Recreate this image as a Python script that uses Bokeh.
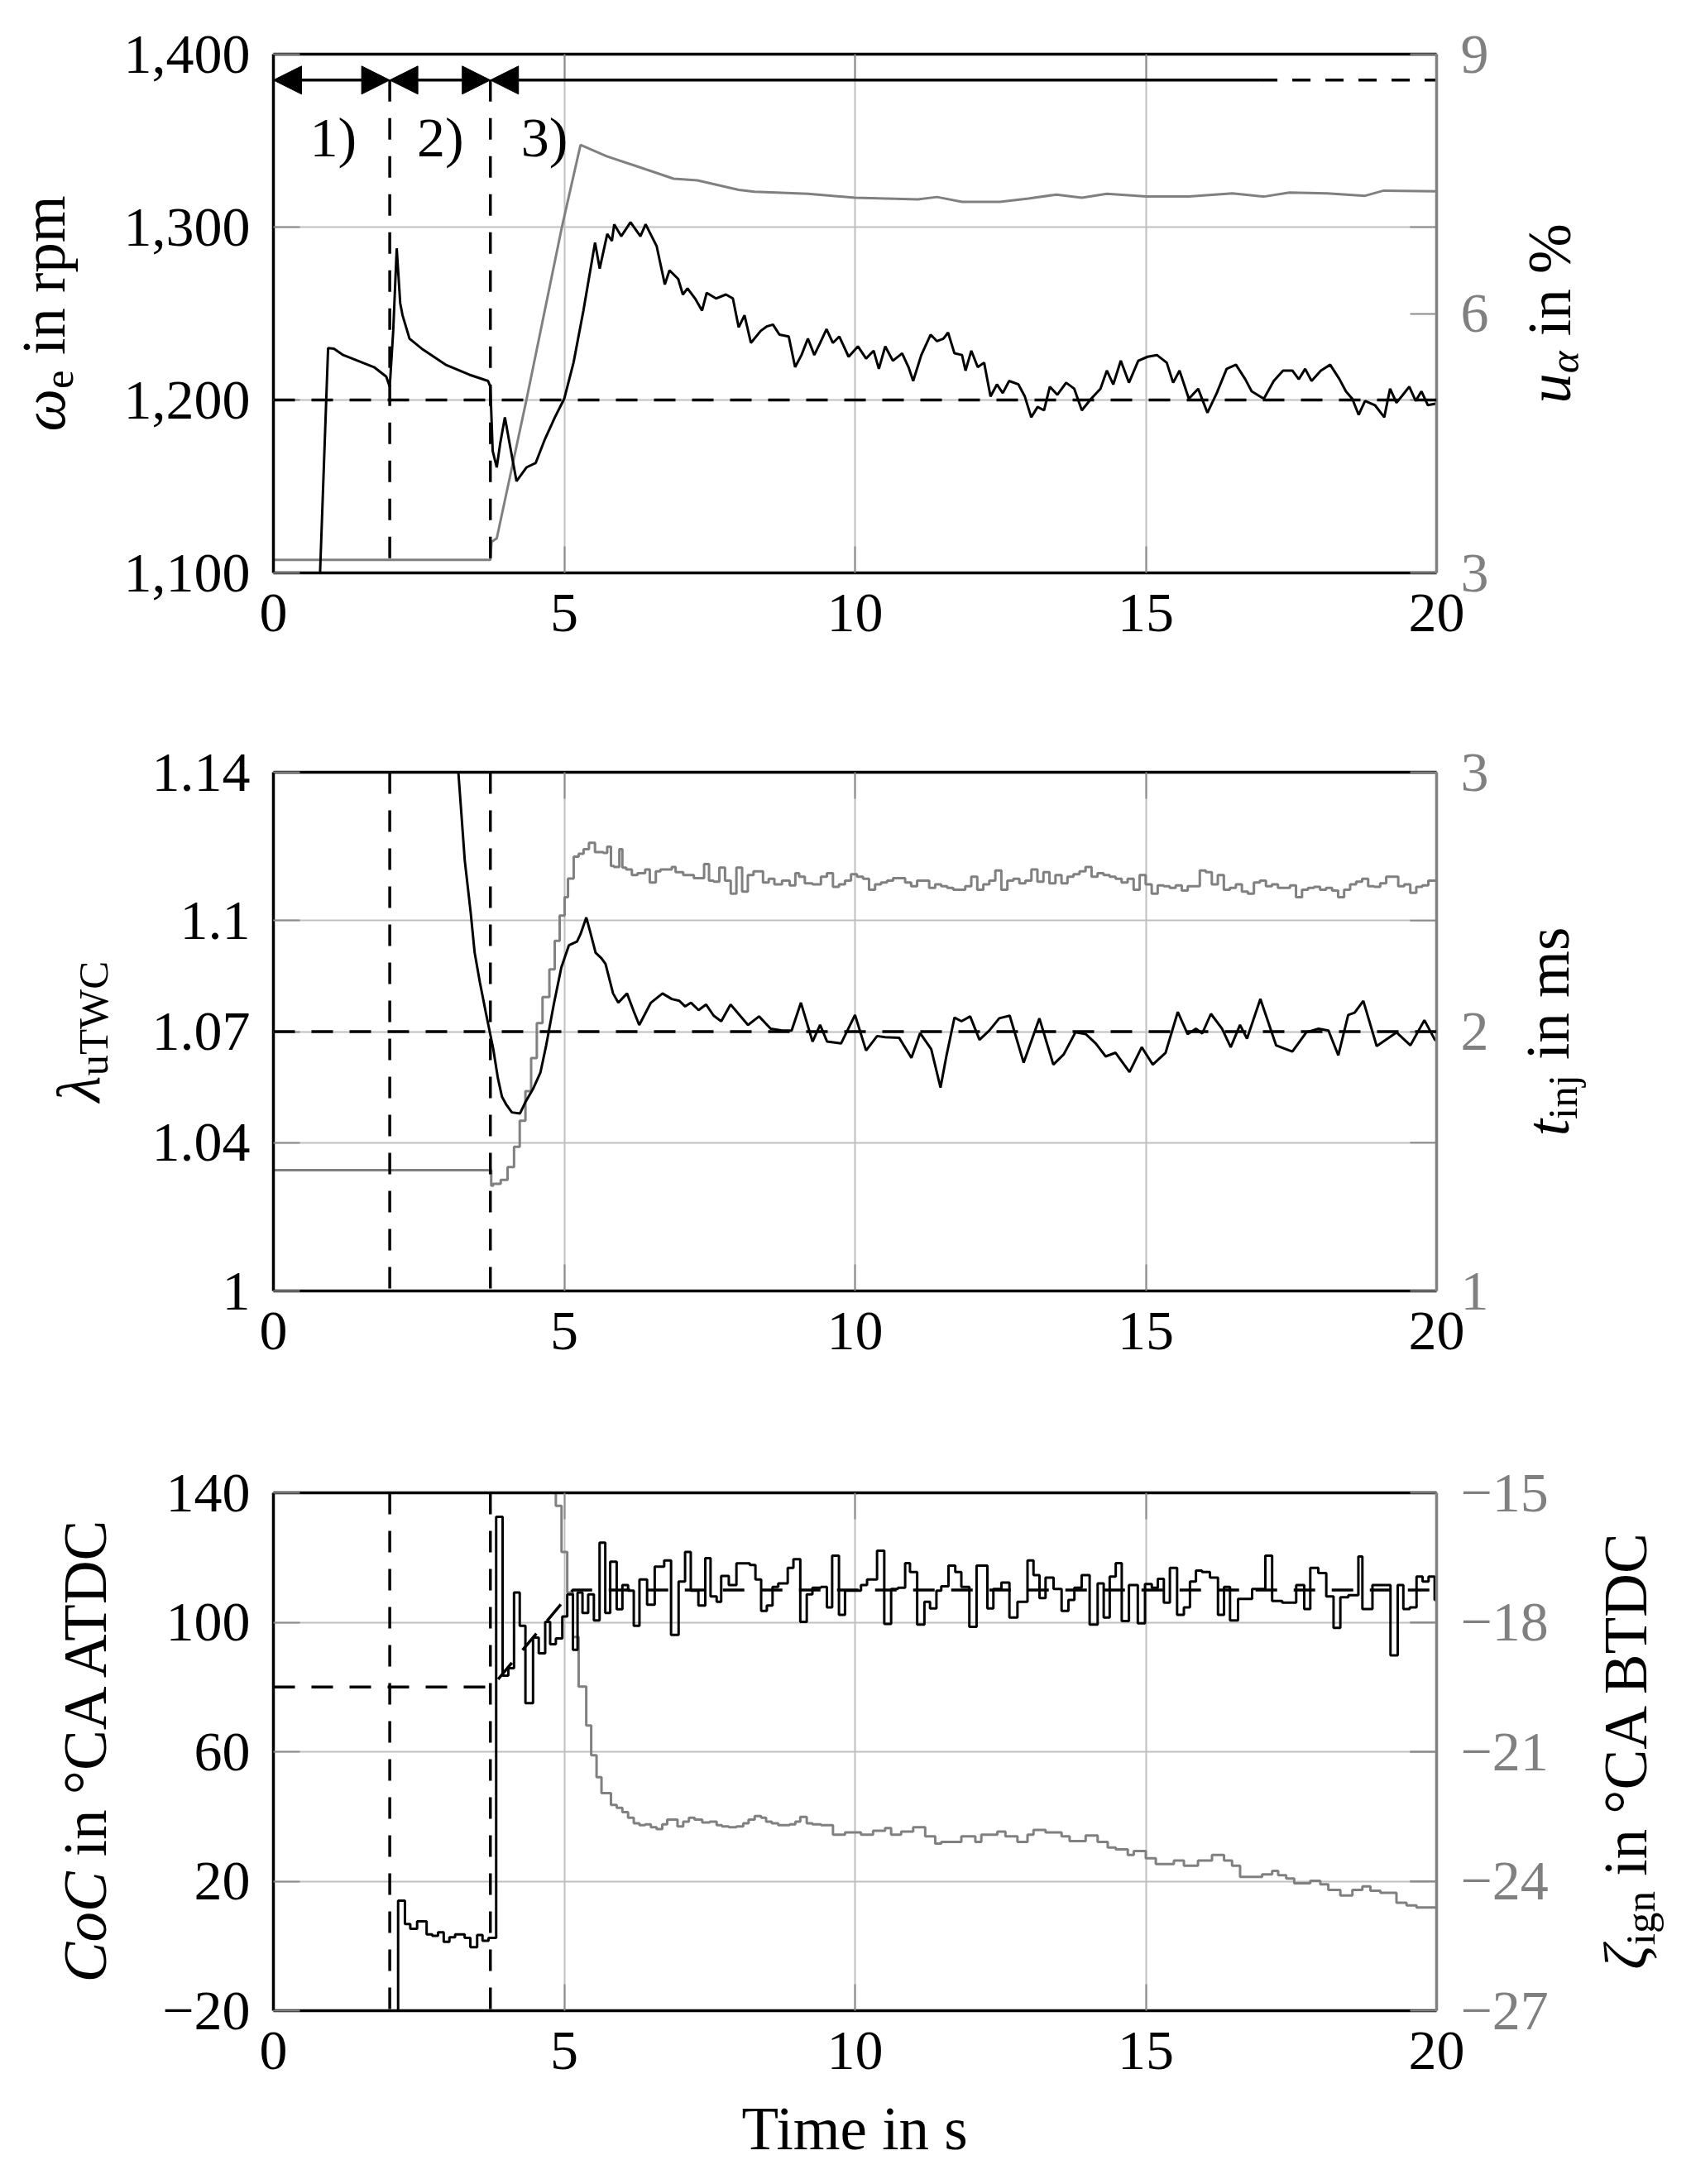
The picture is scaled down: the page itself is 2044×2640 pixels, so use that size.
import numpy as np
from bokeh.plotting import figure
from bokeh.models import (Range1d, LinearAxis, FixedTicker, CustomJSTickFormatter,
                          Span, Arrow, NormalHead, Div)
from bokeh.layouts import column, row
from bokeh.embed import file_html
from bokeh.resources import INLINE
from bokeh.core.properties import value

# ---------------- data ----------------
time_ticks = [0, 5, 10, 15, 20]

omega_ticks = [1100, 1200, 1300, 1400]
omega_tick_labels = ["1,100", "1,200", "1,300", "1,400"]
u_ticks = [3, 6, 9]
u_tick_labels = ["3", "6", "9"]
lam_ticks = [1.0, 1.04, 1.07, 1.1, 1.14]
lam_tick_labels = ["1", "1.04", "1.07", "1.1", "1.14"]
tinj_ticks = [1, 2, 3]
tinj_tick_labels = ["1", "2", "3"]
coc_ticks = [-20, 20, 60, 100, 140]
coc_tick_labels = ["\u221220", "20", "60", "100", "140"]
ign_ticks = [-27, -24, -21, -18, -15]
ign_tick_labels = ["\u221227", "\u221224", "\u221221", "\u221218", "\u221215"]

phase_bounds = [2.0, 3.73]
phase_labels = ["1)", "2)", "3)"]
omega_ref = 1200
lambda_ref = 1.07
coc_ref = [(0, 80), (3.75, 80), (5.15, 110), (20, 110)]

# engine speed omega_e (rpm)
omega = [(0.77, 1070), (0.94, 1230), (1.04, 1229.7), (1.20, 1226), (1.73, 1219), (1.94, 1213.5),
         (2.00, 1207.7), (2.06, 1240), (2.12, 1287.7), (2.18, 1256), (2.22, 1249), (2.34, 1235.5),
         (2.55, 1229.7), (2.96, 1220.4), (3.37, 1214.6), (3.69, 1211), (3.73, 1207.7), (3.77, 1170.5),
         (3.84, 1161), (3.90, 1175), (3.98, 1190), (4.06, 1175), (4.18, 1153), (4.35, 1161),
         (4.51, 1163.6), (4.67, 1177.5), (4.84, 1190), (5.00, 1200.7), (5.16, 1221.6), (5.33, 1251.7),
         (5.53, 1291), (5.61, 1276), (5.74, 1296), (5.82, 1292), (5.86, 1301.6), (5.98, 1294.7),
         (6.14, 1302.8), (6.31, 1294.7), (6.40, 1301.6), (6.59, 1288.9), (6.73, 1266.8), (6.81, 1275),
         (6.96, 1270), (7.04, 1261), (7.12, 1264.5), (7.25, 1258.7), (7.37, 1251.7), (7.45, 1262),
         (7.61, 1258.7), (7.78, 1261), (7.90, 1258.7), (8.00, 1242), (8.10, 1249), (8.21, 1233),
         (8.38, 1240), (8.48, 1242.5), (8.59, 1243.6), (8.70, 1237.8), (8.86, 1236.7), (8.97, 1219),
         (9.08, 1226), (9.19, 1235.5), (9.30, 1226), (9.40, 1233), (9.51, 1241), (9.62, 1233),
         (9.73, 1236.7), (9.89, 1225), (10.05, 1231), (10.19, 1224), (10.32, 1228.5), (10.41, 1218),
         (10.52, 1231), (10.65, 1222.7), (10.81, 1227), (10.92, 1219), (11.00, 1211), (11.14, 1226),
         (11.30, 1237.8), (11.41, 1234), (11.52, 1235.5), (11.60, 1239), (11.71, 1227), (11.84, 1226),
         (11.90, 1217), (12.00, 1228.5), (12.11, 1219), (12.22, 1221.6), (12.33, 1202), (12.44, 1209),
         (12.54, 1204), (12.65, 1211), (12.81, 1209), (12.92, 1202), (13.03, 1190), (13.14, 1196),
         (13.25, 1194), (13.35, 1207.7), (13.48, 1203), (13.63, 1210), (13.77, 1206.5), (13.90, 1194),
         (14.06, 1200.7), (14.22, 1206.5), (14.33, 1217), (14.44, 1209), (14.57, 1222.7), (14.71, 1210),
         (14.87, 1222.7), (15.03, 1225), (15.19, 1226), (15.36, 1221.6), (15.47, 1210), (15.58, 1217),
         (15.74, 1200.7), (15.90, 1206.5), (16.06, 1192.6), (16.22, 1204), (16.39, 1218), (16.55, 1220.4),
         (16.71, 1212), (16.82, 1205), (17.03, 1200.7), (17.20, 1211), (17.36, 1217), (17.52, 1217),
         (17.63, 1212), (17.74, 1218), (17.85, 1211), (18.01, 1217), (18.17, 1220.4), (18.33, 1212),
         (18.44, 1205), (18.55, 1200.7), (18.66, 1191.4), (18.77, 1199.5), (18.94, 1197), (19.10, 1190),
         (19.20, 1206.5), (19.31, 1198.4), (19.42, 1203), (19.53, 1207.7), (19.64, 1199.5), (19.74, 1205),
         (19.85, 1197), (20.00, 1198)]

# throttle u_alpha (%)
u_alpha = [(0, 3.15), (3.73, 3.15), (3.75, 3.36), (3.84, 3.40), (4.35, 5.0), (4.96, 7.0), (5.28, 7.95),
           (5.73, 7.82), (6.88, 7.56), (7.29, 7.54), (8.00, 7.43), (8.27, 7.41), (9.19, 7.385),
           (10.0, 7.339), (10.54, 7.33), (11.08, 7.32), (11.41, 7.348), (11.84, 7.292), (12.49, 7.292),
           (12.98, 7.33), (13.46, 7.376), (13.9, 7.339), (14.33, 7.385), (15.01, 7.353), (15.74, 7.353),
           (16.49, 7.39), (17.03, 7.353), (17.47, 7.40), (18.12, 7.39), (18.77, 7.362), (19.09, 7.422),
           (20.0, 7.413)]

# lambda upstream TWC
lam = [(3.10, 1.16), (3.18, 1.14), (3.29, 1.1162), (3.39, 1.1024), (3.46, 1.0913), (3.55, 1.0833),
       (3.65, 1.0753), (3.78, 1.0653), (3.86, 1.0574), (3.93, 1.0524), (4.00, 1.0504), (4.10, 1.0482),
       (4.24, 1.0479), (4.33, 1.0509), (4.46, 1.0544), (4.59, 1.0589), (4.69, 1.0663), (4.82, 1.0773),
       (4.95, 1.0873), (5.08, 1.0933), (5.22, 1.0943), (5.28, 1.0963), (5.38, 1.1008), (5.44, 1.0973),
       (5.54, 1.0913), (5.64, 1.0898), (5.71, 1.0883), (5.84, 1.0803), (5.93, 1.0778), (6.08, 1.0803),
       (6.20, 1.0753), (6.29, 1.0718), (6.49, 1.0778), (6.69, 1.0803), (6.85, 1.0788), (6.98, 1.0783),
       (7.08, 1.0768), (7.18, 1.0778), (7.31, 1.0758), (7.44, 1.0773), (7.57, 1.0743), (7.70, 1.0728),
       (7.86, 1.0773), (8.16, 1.0718), (8.35, 1.0741), (8.55, 1.0708), (8.75, 1.0703), (8.91, 1.0703),
       (9.07, 1.0778), (9.27, 1.0673), (9.40, 1.0718), (9.52, 1.0673), (9.76, 1.0668), (10.00, 1.0745),
       (10.19, 1.0649), (10.38, 1.0688), (10.52, 1.0685), (10.76, 1.0683), (10.97, 1.0629), (11.12, 1.0696),
       (11.31, 1.0653), (11.47, 1.0549), (11.57, 1.0633), (11.71, 1.0738), (11.83, 1.0728), (11.98, 1.0741),
       (12.14, 1.0678), (12.31, 1.0703), (12.48, 1.0736), (12.66, 1.0743), (12.90, 1.0616), (13.17, 1.0736),
       (13.41, 1.0611), (13.59, 1.0639), (13.79, 1.0698), (13.97, 1.0693), (14.14, 1.0668), (14.31, 1.0633),
       (14.48, 1.0643), (14.72, 1.0591), (14.93, 1.0658), (15.12, 1.0611), (15.34, 1.0643), (15.55, 1.0753),
       (15.72, 1.0693), (15.86, 1.0708), (15.97, 1.0695), (16.12, 1.0748), (16.31, 1.0708), (16.46, 1.0658),
       (16.62, 1.0718), (16.74, 1.0681), (16.97, 1.0788), (17.24, 1.0663), (17.52, 1.0646), (17.76, 1.0698),
       (17.97, 1.0708), (18.14, 1.0703), (18.31, 1.0636), (18.48, 1.0745), (18.59, 1.0751), (18.74, 1.0783),
       (18.97, 1.0661), (19.31, 1.0698), (19.55, 1.0663), (19.79, 1.0731), (19.97, 1.0678), (20.0, 1.0675)]

# injection time t_inj (ms), step signal: first part with read step times
tinj_head = [(0, 1.466), (3.745, 1.406), (3.778, 1.413), (3.908, 1.428), (4.026, 1.478), (4.137, 1.556),
             (4.235, 1.656), (4.333, 1.770), (4.431, 1.898), (4.529, 2.033), (4.627, 2.133), (4.745, 2.240),
             (4.837, 2.350), (4.922, 2.447), (5.007, 2.518), (5.065, 2.590), (5.163, 2.675), (5.248, 2.686),
             (5.333, 2.703), (5.425, 2.728), (5.529, 2.692), (5.673, 2.689), (5.739, 2.713), (5.804, 2.639),
             (5.856, 2.635), (5.948, 2.703), (6.000, 2.632), (6.065, 2.625), (6.163, 2.604), (6.261, 2.611),
             (6.392, 2.625), (6.471, 2.575), (6.575, 2.618), (6.654, 2.625), (6.850, 2.635), (6.915, 2.615),
             (7.046, 2.604), (7.229, 2.592), (7.405, 2.646), (7.490, 2.582), (7.569, 2.578), (7.667, 2.632),
             (7.765, 2.582), (7.863, 2.532), (7.961, 2.632), (8.059, 2.540), (8.157, 2.604), (8.255, 2.618),
             (8.418, 2.575), (8.516, 2.589), (8.614, 2.568), (8.745, 2.582), (8.876, 2.564), (8.974, 2.611),
             (9.039, 2.597), (9.137, 2.572), (9.268, 2.568)]
# later part: one value per engine-cycle sample, sample period 0.1034 s from 9.414 s
tinj_tail_start = 9.414
tinj_tail_dt = 0.1034
tinj_tail = [2.597, 2.611, 2.558, 2.568, 2.582, 2.607, 2.597, 2.589, 2.547, 2.568, 2.575, 2.582, 2.592,
             2.592, 2.575, 2.561, 2.582, 2.582, 2.554, 2.568, 2.561, 2.554, 2.547, 2.547, 2.561, 2.597,
             2.547, 2.568, 2.582, 2.621, 2.547, 2.582, 2.589, 2.572, 2.582, 2.625, 2.578, 2.615, 2.572,
             2.604, 2.572, 2.597, 2.607, 2.618, 2.635, 2.597, 2.611, 2.604, 2.597, 2.589, 2.575, 2.589,
             2.547, 2.604, 2.568, 2.532, 2.564, 2.561, 2.554, 2.564, 2.544, 2.561, 2.561, 2.621, 2.615,
             2.568, 2.604, 2.547, 2.554, 2.568, 2.540, 2.532, 2.575, 2.582, 2.561, 2.568, 2.554, 2.554,
             2.564, 2.518, 2.547, 2.554, 2.558, 2.547, 2.554, 2.544, 2.518, 2.547, 2.568, 2.578, 2.589,
             2.561, 2.558, 2.572, 2.597, 2.597, 2.561, 2.568, 2.535, 2.558, 2.564, 2.582]

# centre of combustion CoC (deg CA ATDC), step signal
coc = [(0, -40), (2.144, 14.0), (2.261, 6.8), (2.353, 5.3), (2.471, 7.6), (2.634, 3.6), (2.732, 3.1),
       (2.830, 4.2), (2.928, 1.3), (3.026, 2.7), (3.124, 3.6), (3.288, 2.5), (3.386, -0.4), (3.503, 3.4),
       (3.595, 1.6), (3.699, 2.5), (3.830, 132.6), (3.941, 83.5), (4.039, 85.8), (4.137, 109.2),
       (4.235, 98.9), (4.333, 75.0), (4.464, 95.3), (4.562, 90.4), (4.673, 100.1), (4.758, 93.2),
       (4.856, 95.0), (4.967, 101.8), (5.052, 108.6), (5.150, 91.5), (5.229, 109.2), (5.314, 102.9),
       (5.412, 108.6), (5.510, 100.6), (5.608, 124.6), (5.706, 102.9), (5.791, 118.7), (5.902, 104.0),
       (6.000, 111.5), (6.098, 109.8), (6.196, 98.9), (6.294, 113.2), (6.425, 105.4), (6.556, 117.2),
       (6.719, 119.1), (6.837, 96.1), (6.967, 112.6), (7.078, 121.7), (7.176, 109.8), (7.307, 105.2),
       (7.425, 119.8), (7.516, 108.0), (7.621, 106.3), (7.699, 114.3), (7.830, 111.5), (7.961, 118.2),
       (8.190, 117.7), (8.288, 113.2), (8.386, 103.5), (8.484, 105.2), (8.582, 110.9), (8.680, 112.0),
       (8.843, 116.8), (8.941, 119.5), (9.059, 100.1), (9.170, 108.6), (9.268, 110.7), (9.414, 110.9),
       (9.517, 104.6), (9.607, 120.6), (9.724, 102.3), (9.828, 109.8), (10.103, 111.5), (10.207, 113.2),
       (10.379, 122.1), (10.503, 99.5), (10.621, 110.3), (10.738, 110.7), (10.862, 118.3), (10.945, 115.5),
       (11.069, 99.3), (11.193, 106.3), (11.290, 104.3), (11.400, 109.8), (11.483, 111.1), (11.607, 117.5),
       (11.724, 115.5), (11.828, 110.9), (11.966, 98.6), (12.090, 117.5), (12.276, 104.3), (12.379, 110.3),
       (12.517, 112.3), (12.655, 101.5), (12.793, 106.3), (12.966, 119.1), (13.069, 114.6), (13.172, 107.5),
       (13.276, 113.8), (13.414, 110.3), (13.552, 103.5), (13.669, 106.9), (13.772, 110.7), (13.897, 114.6),
       (14.034, 99.3), (14.172, 112.0), (14.276, 101.5), (14.379, 114.1), (14.483, 118.3), (14.586, 100.4),
       (14.710, 111.5), (14.862, 99.7), (14.986, 111.8), (15.103, 110.7), (15.207, 113.4), (15.310, 106.1),
       (15.414, 116.8), (15.538, 102.3), (15.655, 104.6), (15.759, 112.6), (15.862, 116.0), (15.966, 115.5),
       (16.103, 113.8), (16.241, 102.3), (16.345, 110.9), (16.448, 100.6), (16.586, 107.2), (16.828, 110.3),
       (17.055, 120.6), (17.172, 106.6), (17.345, 106.1), (17.586, 111.5), (17.724, 104.1), (17.828, 116.8),
       (17.966, 115.2), (18.103, 108.0), (18.228, 98.3), (18.345, 107.7), (18.483, 108.4), (18.655, 120.3),
       (18.724, 104.1), (18.897, 111.5), (19.207, 89.8), (19.331, 111.5), (19.428, 104.1), (19.538, 104.6),
       (19.655, 114.1), (19.759, 112.6), (19.862, 114.1), (19.966, 106.9), (20.0, 106.9)]

# ignition angle zeta_ign (deg CA BTDC), step signal
ign = [(0, -10), (4.856, -15.30), (4.954, -16.37), (5.052, -17.31), (5.150, -18.34), (5.248, -19.49),
       (5.379, -20.39), (5.464, -21.08), (5.556, -21.59), (5.641, -21.96), (5.804, -22.23), (5.902, -22.30),
       (6.000, -22.40), (6.098, -22.53), (6.196, -22.66), (6.294, -22.70), (6.392, -22.68), (6.490, -22.75),
       (6.588, -22.79), (6.686, -22.68), (6.771, -22.57), (6.948, -22.73), (7.046, -22.62), (7.144, -22.53),
       (7.242, -22.57), (7.373, -22.64), (7.503, -22.62), (7.621, -22.70), (7.712, -22.73), (7.830, -22.75),
       (7.961, -22.73), (8.078, -22.66), (8.170, -22.57), (8.275, -22.49), (8.386, -22.53), (8.471, -22.62),
       (8.569, -22.66), (8.680, -22.70), (8.876, -22.68), (8.974, -22.62), (9.059, -22.51), (9.170, -22.66),
       (9.268, -22.68), (9.414, -22.70), (9.621, -22.92), (9.828, -22.87), (10.103, -22.92), (10.310, -22.83),
       (10.517, -22.77), (10.621, -22.92), (10.793, -22.85), (11.000, -22.75), (11.207, -22.96),
       (11.379, -23.13), (11.483, -23.09), (11.828, -22.96), (12.069, -23.09), (12.172, -22.92),
       (12.448, -22.85), (12.586, -22.96), (12.793, -23.09), (12.966, -22.92), (13.069, -22.81),
       (13.276, -22.87), (13.552, -22.96), (13.690, -23.07), (13.966, -22.94), (14.172, -23.09),
       (14.345, -23.22), (14.483, -23.26), (14.690, -23.39), (14.793, -23.30), (15.000, -23.47),
       (15.172, -23.60), (15.483, -23.52), (15.655, -23.64), (15.897, -23.52), (16.138, -23.39),
       (16.345, -23.52), (16.483, -23.64), (16.621, -23.90), (17.000, -23.84), (17.172, -23.76),
       (17.276, -23.86), (17.414, -23.94), (17.552, -24.05), (17.828, -23.99), (18.000, -24.07),
       (18.138, -24.20), (18.345, -24.33), (18.552, -24.20), (18.724, -24.12), (18.862, -24.22),
       (19.034, -24.27), (19.310, -24.50), (19.483, -24.56), (19.655, -24.61), (20.0, -24.61)]

# ---------------- styling ----------------
FONT = "Liberation Serif"
FS = 68          # tick labels
TFS = 73         # axis titles
SUB = 51         # subscripts in axis titles
GRAY = "#808080"
GRID = "#c0c0c0"
TICK = "#8c8c8c"
DASH = "26 20"
LW = 3.0
FRAME_W = 1406
LEFT_TITLE_W = 146
LEFT_BORDER = 184
TOTAL_W = 2016


def unzip(pairs):
    return [a for a, _ in pairs], [b for _, b in pairs]


def fmt(tv, tl):
    return CustomJSTickFormatter(
        args=dict(tv=list(tv), tl=list(tl)),
        code="for (let i = 0; i < tv.length; i++) { if (Math.abs(tv[i] - tick) < 1e-9) return tl[i]; } return '';")


def style_axis(ax, color="black"):
    ax.axis_line_width = 3.5
    ax.axis_line_color = color
    ax.major_tick_in = 32
    ax.major_tick_out = 0
    ax.minor_tick_in = 0
    ax.minor_tick_out = 0
    ax.major_tick_line_color = TICK
    ax.major_tick_line_width = 2
    ax.major_label_text_font = FONT
    ax.major_label_text_font_size = f"{FS}px"
    ax.major_label_text_color = color


def make_fig(yl, yticks, ylabels, y2, y2ticks, y2labels, frame_h, top, bottom, right):
    p = figure(frame_width=FRAME_W, frame_height=frame_h,
               x_range=Range1d(0, 20), y_range=Range1d(*yl),
               output_backend="svg", toolbar_location=None, title=None,
               min_border_left=LEFT_BORDER, min_border_right=right, min_border_top=top,
               min_border_bottom=bottom, background_fill_color="white",
               border_fill_color="white")
    p.outline_line_color = None
    p.extra_y_ranges = {"r": Range1d(*y2)}
    xa = p.xaxis[0]
    xa.ticker = FixedTicker(ticks=time_ticks)
    style_axis(xa)
    xa.major_label_standoff = 26
    ya = p.yaxis[0]
    ya.ticker = FixedTicker(ticks=yticks)
    ya.formatter = fmt(yticks, ylabels)
    style_axis(ya)
    ya.major_label_standoff = 28
    ra = LinearAxis(y_range_name="r", ticker=FixedTicker(ticks=y2ticks), formatter=fmt(y2ticks, y2labels))
    style_axis(ra, GRAY)
    ra.major_label_standoff = 29
    p.add_layout(ra, "right")
    ta = LinearAxis(ticker=FixedTicker(ticks=time_ticks))
    style_axis(ta)
    ta.major_label_text_font_size = "0px"
    ta.major_label_text_alpha = 0
    ta.major_label_standoff = 0
    p.add_layout(ta, "above")
    p.xgrid.ticker = FixedTicker(ticks=time_ticks)
    p.ygrid.ticker = FixedTicker(ticks=yticks)
    for g in (p.xgrid[0], p.ygrid[0]):
        g.grid_line_color = GRID
        g.grid_line_width = 2
    inner = [t for t in yticks if yl[0] < t < yl[1]]
    p.ray(x=[20] * len(inner), y=inner, length=32, angle=np.pi, length_units="screen",
          line_color=TICK, line_width=2)
    return p


def sub(txt, italic=False):
    t = f"<i>{txt}</i>" if italic else txt
    return f'<span style="font-size:{SUB}px;position:relative;top:10px;">{t}</span>'


TEXT_CSS = f"white-space:nowrap;font-family:'{FONT}',serif;font-size:{TFS}px;line-height:1;color:#000;"


def label_div(w, h, baseline_x, center_y, html):
    """Vertical (bottom-to-top) axis title as HTML text; baseline at baseline_x."""
    cx = baseline_x - 0.337 * TFS
    inner = (f'<div style="position:relative;width:{w}px;height:{h}px;">'
             f'<div style="position:absolute;left:{cx:.1f}px;top:{center_y:.1f}px;'
             f'transform:translate(-50%,-50%) rotate(-90deg);{TEXT_CSS}">{html}</div></div>')
    return Div(text=inner, width=w, height=h, margin=0, styles={"overflow": "visible"})


def hlabel_div(w, h, center_x, baseline_y, html):
    """Horizontal title as HTML text; baseline at baseline_y from the top of the box."""
    top = baseline_y - 0.837 * TFS
    inner = (f'<div style="position:relative;width:{w}px;height:{h}px;">'
             f'<div style="position:absolute;left:{center_x:.1f}px;top:{top:.1f}px;'
             f'transform:translateX(-50%);{TEXT_CSS}">{html}</div></div>')
    return Div(text=inner, width=w, height=h, margin=0, styles={"overflow": "visible"})


# ---------------- figure 1: engine speed / throttle ----------------
H1_TOP, H1_FRAME, H1_BOT, R1 = 65, 627, 176, 90
p1 = make_fig((1100, 1400), omega_ticks, omega_tick_labels, (3, 9), u_ticks, u_tick_labels,
              H1_FRAME, H1_TOP, H1_BOT, R1)
ut, uv = unzip(u_alpha)
p1.line(ut, uv, y_range_name="r", line_color=GRAY, line_width=LW)
p1.add_layout(Span(location=omega_ref, dimension="width", line_color="black", line_width=3.5, line_dash=DASH))
arrow_y = 1385
p1.segment(x0=phase_bounds, y0=[arrow_y] * 2, x1=phase_bounds, y1=[1100] * 2,
           line_color="black", line_width=3.5, line_dash=DASH)
ot, ov = unzip(omega)
p1.line(ot, ov, line_color="black", line_width=LW)
hs = 34
p1.add_layout(Arrow(x_start=0, y_start=arrow_y, x_end=phase_bounds[0], y_end=arrow_y, line_width=3.5,
                    start=NormalHead(size=hs, fill_color="black", line_color="black"),
                    end=NormalHead(size=hs, fill_color="black", line_color="black")))
p1.add_layout(Arrow(x_start=phase_bounds[0], y_start=arrow_y, x_end=phase_bounds[1], y_end=arrow_y,
                    line_width=3.5,
                    start=NormalHead(size=hs, fill_color="black", line_color="black"),
                    end=NormalHead(size=hs, fill_color="black", line_color="black")))
p1.add_layout(Arrow(x_start=phase_bounds[1], y_start=arrow_y, x_end=16.95, y_end=arrow_y, line_width=3.5,
                    start=NormalHead(size=hs, fill_color="black", line_color="black"), end=None))
p1.line([16.95, 20], [arrow_y, arrow_y], line_color="black", line_width=3.5, line_dash="22 18")
p1.text(x=[1.03, 2.87, 4.66], y=[1352] * 3, text=phase_labels, text_font=value(FONT),
        text_font_size=f"{FS}px", text_align="center", text_baseline="alphabetic", text_color="black")
H1 = H1_TOP + H1_FRAME + H1_BOT
C1 = H1_TOP + H1_FRAME / 2
l1 = label_div(LEFT_TITLE_W, H1, 78, C1, "<i>\u03c9</i>" + sub("e") + " in rpm")
r1w = TOTAL_W - LEFT_TITLE_W - LEFT_BORDER - FRAME_W - R1
r1 = label_div(r1w, H1, 72, C1, "<i>u</i>" + sub("\u03b1", True) + " in %")

# ---------------- figure 2: lambda / injection time ----------------
H2_TOP, H2_FRAME, H2_BOT, R2 = 65, 627, 179, 90
p2 = make_fig((1.0, 1.14), lam_ticks, lam_tick_labels, (1, 3), tinj_ticks, tinj_tick_labels,
              H2_FRAME, H2_TOP, H2_BOT, R2)
tt, tvv = unzip(tinj_head)
tt = tt + [tinj_tail_start + tinj_tail_dt * i for i in range(len(tinj_tail))] + [20]
tvv = tvv + tinj_tail + [tinj_tail[-1]]
p2.step(tt, tvv, mode="after", y_range_name="r", line_color=GRAY, line_width=LW)
p2.add_layout(Span(location=lambda_ref, dimension="width", line_color="black", line_width=3.5, line_dash=DASH))
for b in phase_bounds:
    p2.add_layout(Span(location=b, dimension="height", line_color="black", line_width=3.5, line_dash=DASH))
lt, lv = unzip(lam)
p2.line(lt, lv, line_color="black", line_width=LW)
H2 = H2_TOP + H2_FRAME + H2_BOT
C2 = H2_TOP + H2_FRAME / 2
l2 = label_div(LEFT_TITLE_W, H2, 120, C2, "<i>\u03bb</i>" + sub("uTWC"))
r2w = TOTAL_W - LEFT_TITLE_W - LEFT_BORDER - FRAME_W - R2
r2 = label_div(r2w, H2, 70, C2, "<i>t</i>" + sub("inj") + " in ms")

# ---------------- figure 3: CoC / ignition ----------------
H3_TOP, H3_FRAME, H3_BOT, R3 = 65, 626, 112, 150
p3 = make_fig((-20, 140), coc_ticks, coc_tick_labels, (-27, -15), ign_ticks, ign_tick_labels,
              H3_FRAME, H3_TOP, H3_BOT, R3)
it_, iv = unzip(ign)
p3.step(it_, iv, mode="after", y_range_name="r", line_color=GRAY, line_width=LW)
for b in phase_bounds:
    p3.add_layout(Span(location=b, dimension="height", line_color="black", line_width=3.5, line_dash=DASH))
rt, rv = unzip(coc_ref)
p3.line(rt, rv, line_color="black", line_width=3.5, line_dash=DASH)
ct, cv = unzip(coc)
p3.step(ct, cv, mode="after", line_color="black", line_width=LW)
H3 = H3_TOP + H3_FRAME + H3_BOT
C3 = H3_TOP + H3_FRAME / 2
l3 = label_div(LEFT_TITLE_W, H3, 128, C3, "<i>CoC</i> in \u00b0CA ATDC")
r3w = TOTAL_W - LEFT_TITLE_W - LEFT_BORDER - FRAME_W - R3
r3 = label_div(r3w, H3, 104, C3, "<i>\u03b6</i>" + sub("ign") + " in \u00b0CA BTDC")

# x-axis title below the last panel (baseline 168 px below the last frame)
HB = 2636 - 8 - H1 - H2 - H3
bt = hlabel_div(TOTAL_W, HB, LEFT_TITLE_W + LEFT_BORDER + FRAME_W / 2, 168 - H3_BOT, "Time in s")

layout = column(row(l1, p1, r1, spacing=0), row(l2, p2, r2, spacing=0),
                row(l3, p3, r3, spacing=0), bt, spacing=0)
open("out.html", "w").write(file_html(layout, INLINE))
